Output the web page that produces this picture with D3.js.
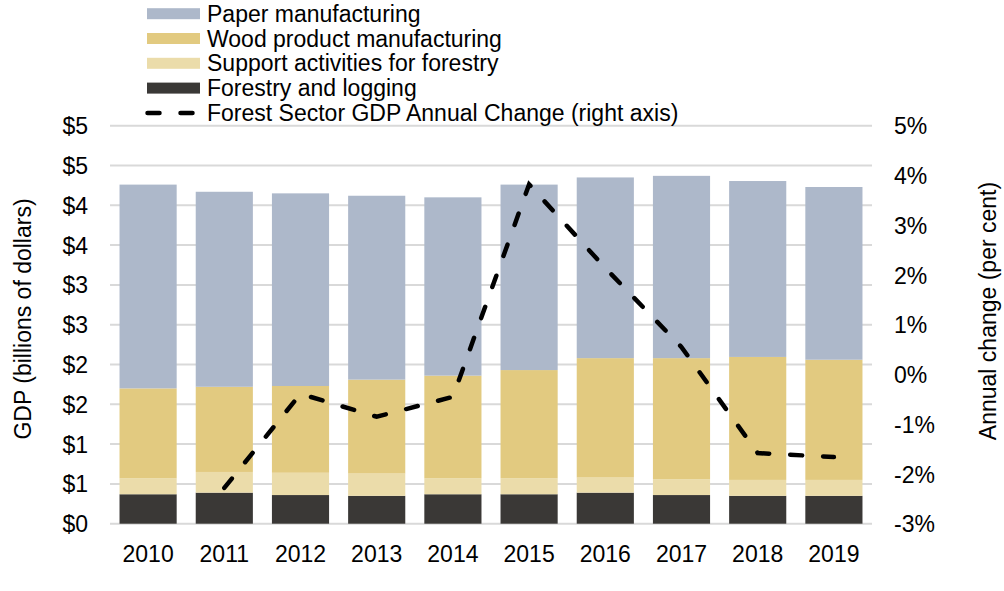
<!DOCTYPE html>
<html>
<head>
<meta charset="utf-8">
<script src="https://cdn.jsdelivr.net/npm/d3@7"></script>
<style>
  body { margin: 0; background: #fff; }
  text { font-family: "Liberation Sans", Arial, sans-serif; fill: #000; }
</style>
</head>
<body>
<div id="chart"></div>
<script>
// données
const years = ["2010", "2011", "2012", "2013", "2014", "2015", "2016", "2017", "2018", "2019"]
const forestry = [0.37, 0.39, 0.36, 0.35, 0.37, 0.37, 0.39, 0.36, 0.35, 0.35]
const support = [0.20, 0.26, 0.28, 0.28, 0.20, 0.20, 0.19, 0.20, 0.20, 0.20]
const wood = [1.13, 1.07, 1.09, 1.18, 1.29, 1.36, 1.50, 1.52, 1.545, 1.51]
const paper = [2.56, 2.45, 2.42, 2.31, 2.24, 2.33, 2.27, 2.29, 2.21, 2.17]
const annualChange = [null, -2.28, -0.39, -0.85, -0.45, 3.82, 2.14, 0.55, -1.58, -1.66]

const leftTicks = [0, 0.5, 1, 1.5, 2, 2.5, 3, 3.5, 4, 4.5, 5]
const rightTicks = [-3, -2, -1, 0, 1, 2, 3, 4, 5]

const seriesKeys = ["forestry", "support", "wood", "paper"]
const seriesNames = {
  paper: "Paper manufacturing",
  wood: "Wood product manufacturing",
  support: "Support activities for forestry",
  forestry: "Forestry and logging"
}
const colors = {
  paper: "#adb8ca",
  wood: "#e2ca80",
  support: "#ebdcaa",
  forestry: "#3a3836"
}

const rows = years.map((y, i) => ({
  year: y,
  forestry: forestry[i],
  support: support[i],
  wood: wood[i],
  paper: paper[i]
}))

const width = 1004, height = 591
const plot = {left: 110, right: 872, top: 125.7, bottom: 523.7}

const svg = d3.select("#chart")
  .append("svg")
  .attr("width", width)
  .attr("height", height)

const x = d3.scaleBand()
  .domain(years)
  .range([plot.left, plot.right])
  .paddingInner(0.25)
  .paddingOuter(0.125)

const y = d3.scaleLinear()
  .domain([0, 5])
  .range([plot.bottom, plot.top])

const yRight = d3.scaleLinear()
  .domain([-3, 5])
  .range([plot.bottom, plot.top])

// grille
svg.append("g")
  .selectAll("line")
  .data(leftTicks)
  .join("line")
  .attr("x1", plot.left)
  .attr("x2", plot.right)
  .attr("y1", d => y(d))
  .attr("y2", d => y(d))
  .attr("stroke", "#d9d9d9")
  .attr("stroke-width", 2)

// barres empilées
const stacked = d3.stack().keys(seriesKeys)(rows)

svg.append("g")
  .selectAll("g")
  .data(stacked)
  .join("g")
  .attr("fill", d => colors[d.key])
  .selectAll("rect")
  .data(d => d)
  .join("rect")
  .attr("x", d => x(d.data.year))
  .attr("width", x.bandwidth())
  .attr("y", d => y(d[1]))
  .attr("height", d => y(d[0]) - y(d[1]))

// ligne variation annuelle
const line = d3.line()
  .defined(d => d.v !== null)
  .x(d => x(d.year) + x.bandwidth() / 2)
  .y(d => yRight(d.v))

svg.append("path")
  .datum(years.map((yr, i) => ({year: yr, v: annualChange[i]})))
  .attr("d", line)
  .attr("fill", "none")
  .attr("stroke", "#000")
  .attr("stroke-width", 4.5)
  .attr("stroke-linecap", "round")
  .attr("stroke-dasharray", "12,21")

// axe gauche
const axisL = svg.append("g")
  .attr("transform", "translate(" + (plot.left - 22) + ",0)")
  .call(d3.axisLeft(y).tickValues(leftTicks).tickSize(0).tickPadding(0)
    .tickFormat(d => "$" + Math.round(d)))
axisL.select(".domain").remove()
axisL.selectAll("text")
  .style("font-size", "23px")
  .attr("dy", "0.35em")

// axe droit
const axisR = svg.append("g")
  .attr("transform", "translate(894,0)")
  .call(d3.axisRight(yRight).tickValues(rightTicks).tickSize(0).tickPadding(0)
    .tickFormat(d => d + "%"))
axisR.select(".domain").remove()
axisR.selectAll("text")
  .style("font-size", "23px")
  .attr("dy", "0.35em")

// axe du bas
const axisB = svg.append("g")
  .attr("transform", "translate(0," + plot.bottom + ")")
  .call(d3.axisBottom(x).tickSize(0).tickPadding(0))
axisB.select(".domain").remove()
axisB.selectAll("text")
  .style("font-size", "23px")
  .attr("y", 38.5)
  .attr("dy", 0)

// titres des axes
svg.append("text")
  .attr("transform", "translate(31,319) rotate(-90)")
  .attr("text-anchor", "middle")
  .style("font-size", "23px")
  .text("GDP (billions of dollars)")

svg.append("text")
  .attr("transform", "translate(996,311) rotate(-90)")
  .attr("text-anchor", "middle")
  .style("font-size", "23px")
  .text("Annual change (per cent)")

// légende
const legendKeys = ["paper", "wood", "support", "forestry"]
const legend = svg.append("g")

legendKeys.forEach((k, i) => {
  const ly = 13.7 + i * 24.8
  legend.append("rect")
    .attr("x", 147)
    .attr("y", ly - 5.5)
    .attr("width", 53)
    .attr("height", 11)
    .attr("fill", colors[k])
  legend.append("text")
    .attr("x", 207)
    .attr("y", ly)
    .attr("dy", "0.35em")
    .style("font-size", "23px")
    .text(seriesNames[k])
})

const lineY = 13.7 + 4 * 24.8
legend.append("line")
  .attr("x1", 147.5)
  .attr("x2", 200)
  .attr("y1", lineY)
  .attr("y2", lineY)
  .attr("stroke", "#000")
  .attr("stroke-width", 4.5)
  .attr("stroke-linecap", "round")
  .attr("stroke-dasharray", "12,21")
legend.append("text")
  .attr("x", 207)
  .attr("y", lineY)
  .attr("dy", "0.35em")
  .style("font-size", "23px")
  .text("Forest Sector GDP Annual Change (right axis)")
</script>
</body>
</html>
